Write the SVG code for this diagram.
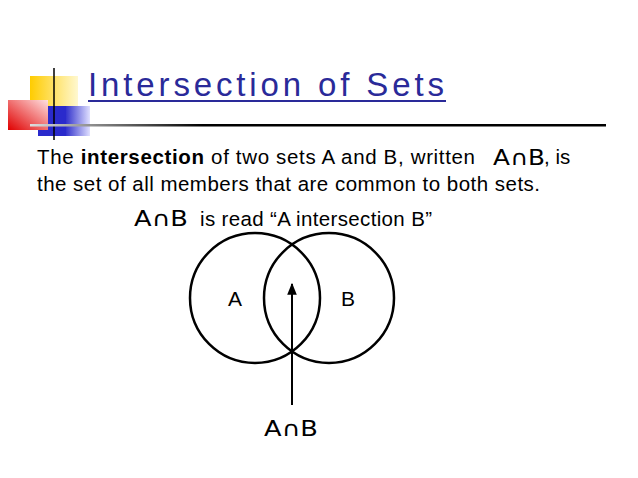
<svg xmlns="http://www.w3.org/2000/svg" width="638" height="478" viewBox="0 0 638 478">
<defs>
<linearGradient id="gy" x1="0" x2="1"><stop offset="0" stop-color="#ffcc00"/><stop offset="1" stop-color="#fff8d0"/></linearGradient>
<linearGradient id="gr" x1="0" y1="1" x2="1" y2="0"><stop offset="0" stop-color="#e00000"/><stop offset="1" stop-color="#ffe0e0"/></linearGradient>
<linearGradient id="gb" x1="0" x2="1"><stop offset="0" stop-color="#3333cc"/><stop offset="1" stop-color="#e0e0ff"/></linearGradient>
<linearGradient id="gl" x1="0" x2="1"><stop offset="0" stop-color="#ddd"/><stop offset="0.3" stop-color="#000"/></linearGradient>
<marker id="ar" viewBox="0 0 10 10" refX="9" refY="5" markerWidth="6" markerHeight="6" orient="auto"><path d="M0,1 L10,5 L0,9 z" fill="#000"/></marker>
<style>.t{font-family:"Liberation Sans",Arial,sans-serif;fill:#000}.c{fill:none;stroke:#000;stroke-width:2.5}.m{font-family:"DejaVu Sans",sans-serif;font-size:21px}</style>
</defs>
<g id="decor">
<rect x="30" y="76" width="48" height="32" fill="url(#gy)"/>
<rect x="38" y="106" width="28" height="30" fill="#2a2acc"/>
<rect x="66" y="106" width="24" height="30" fill="url(#gb)"/>
<rect x="8" y="100" width="40" height="30" fill="url(#gr)"/>
<line x1="54" y1="68" x2="54" y2="140" stroke="#000" stroke-width="1.5"/>
<rect x="30" y="124" width="576" height="2.5" fill="url(#gl)"/>
</g>
<g id="title">
<text class="t" x="88" y="96" font-size="33" style="fill:#2a2a99" textLength="356" lengthAdjust="spacing">Intersection of Sets</text>
<line x1="88" y1="101" x2="446" y2="101" stroke="#2a2a99" stroke-width="2"/>
</g>
<g id="body">
<text class="t" x="37" y="164" font-size="20.5" textLength="438" lengthAdjust="spacing">The <tspan font-weight="bold">intersection</tspan> of two sets A and B, written</text>
<text class="m" x="493" y="165" textLength="52" lengthAdjust="spacingAndGlyphs">A∩B</text>
<text class="t" x="544" y="164" font-size="20.5">, is</text>
<text class="t" x="37" y="191" font-size="20.5" textLength="503" lengthAdjust="spacing">the set of all members that are common to both sets.</text>
<text class="m" x="134" y="226" textLength="54" lengthAdjust="spacingAndGlyphs">A∩B</text>
<text class="t" x="200" y="226" font-size="20.5" textLength="232" lengthAdjust="spacing">is read “A intersection B”</text>
</g>
<g id="setA"><circle class="c" cx="255" cy="298" r="65"/><text class="t" x="228" y="306" font-size="21">A</text></g>
<g id="setB"><circle class="c" cx="329" cy="298" r="65"/><text class="t" x="341" y="306" font-size="21">B</text></g>
<g id="connectors"><line x1="292" y1="405" x2="292" y2="284" stroke="#000" stroke-width="2" marker-end="url(#ar)"/></g>
<g id="label"><text class="m" x="264" y="436" textLength="54" lengthAdjust="spacingAndGlyphs">A∩B</text></g>
</svg>
